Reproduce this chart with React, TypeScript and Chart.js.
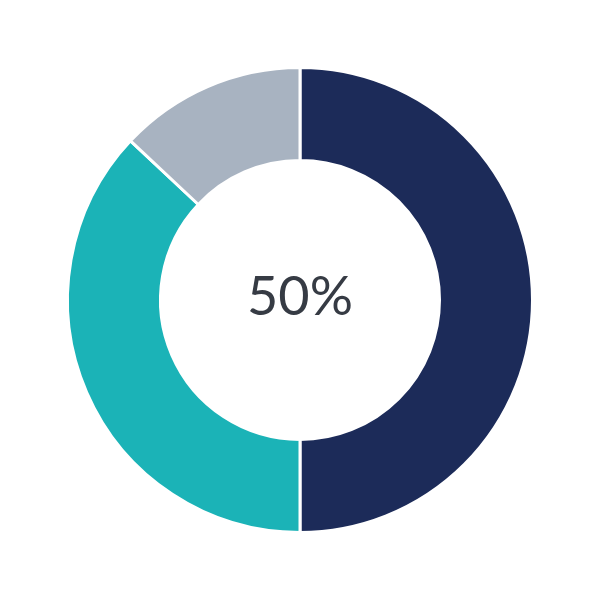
import React, { useRef, useEffect } from "react";
import Chart from "chart.js/auto";

const labels = ["A", "B", "C"];
const values = [50, 37, 13];
const colors = ["#1c2b59", "#1bb3b7", "#a8b3c1"];
const centerText = "50%";

const centerLabel = {
	id: "centerLabel",
	afterDraw(chart) {
		const { ctx, chartArea } = chart;
		const cx = (chartArea.left + chartArea.right) / 2;
		const cy = (chartArea.top + chartArea.bottom) / 2;
		ctx.save();
		ctx.font = "54px Lato";
		ctx.fillStyle = "#363b44";
		ctx.textAlign = "center";
		ctx.textBaseline = "alphabetic";
		ctx.fillText(centerText, cx, cy + 15);
		ctx.restore();
	},
};

const App: React.FC = () => {
	const chartRef = useRef<HTMLCanvasElement | null>(null);
	const chartInstance = useRef<Chart | null>(null);

	useEffect(() => {
		document.body.style.margin = "0";
		if (chartInstance.current) {
			chartInstance.current.destroy();
			chartInstance.current = null;
		}
		if (chartRef.current) {
			chartInstance.current = new Chart(chartRef.current, {
				type: "doughnut",
				data: {
					labels: labels,
					datasets: [
						{
							data: values,
							backgroundColor: colors,
							borderColor: "#ffffff",
							borderWidth: 3,
						},
					],
				},
				options: {
					responsive: false,
					animation: false,
					cutout: "60%",
					layout: { padding: 66 },
					plugins: {
						legend: { display: false },
						tooltip: { enabled: false },
					},
				},
				plugins: [centerLabel],
			});
		}
		return () => {
			if (chartInstance.current) {
				chartInstance.current.destroy();
				chartInstance.current = null;
			}
		};
	}, []);

	return (
		<div style={{ width: 600, height: 600 }}>
			<canvas ref={chartRef} width="600" height="600"></canvas>
		</div>
	);
};

export default App;
